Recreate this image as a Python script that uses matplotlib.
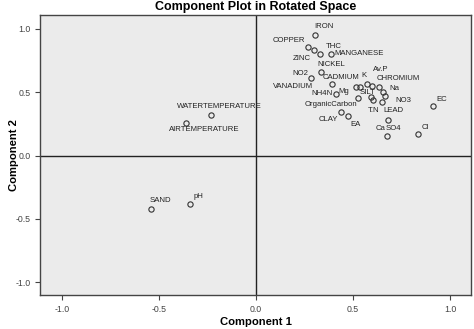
import matplotlib
matplotlib.use('Agg')
import matplotlib.pyplot as plt

names = ['IRON', 'COPPER', 'ZINC', 'THC', 'MANGANESE', 'NICKEL', 'NO2', 'VANADIUM',
         'CADMIUM', 'K', 'Av.P', 'CHROMIUM', 'Na', 'NO3', 'NH4N', 'Mg', 'SILT',
         'OrganicCarbon', 'T.N', 'LEAD', 'Ca', 'SO4', 'EC', 'CLAY', 'EA', 'Cl',
         'WATERTEMPERATURE', 'AIRTEMPERATURE', 'SAND', 'pH']
comp1 = [0.304, 0.266, 0.297, 0.330, 0.387, 0.334, 0.282, 0.392,
         0.515, 0.574, 0.596, 0.636, 0.656, 0.665, 0.412, 0.536, 0.591,
         0.524, 0.605, 0.648, 0.682, 0.674, 0.914, 0.438, 0.473, 0.837,
         -0.232, -0.361, -0.541, -0.342]
comp2 = [0.955, 0.858, 0.831, 0.805, 0.803, 0.661, 0.613, 0.568,
         0.542, 0.568, 0.552, 0.542, 0.500, 0.468, 0.487, 0.542, 0.463,
         0.452, 0.442, 0.421, 0.284, 0.152, 0.395, 0.342, 0.316, 0.171,
         0.318, 0.260, -0.418, -0.384]
ticks = [-1.0, -0.5, 0.0, 0.5, 1.0]

# label placement (pixel offsets from the marker, alignment)
label_pos = [(-1, 8, 'left'), (-2.7, 6.3, 'right'), (-3, -8.3, 'right'), (6, 7.3, 'left'),
             (3, 0, 'left'), (-3.4, 7.3, 'left'), (-2.7, 4.3, 'right'), (-19, -3, 'right'),
             (-33, 9.3, 'left'), (-6.3, 8, 'left'), (1, 16, 'left'), (-2.6, 8, 'left'),
             (5.7, 3.4, 'left'), (10, -4.3, 'left'), (-3, 0, 'right'), (-22, -4.7, 'left'),
             (-10.7, 4, 'left'), (-0.7, -6.3, 'right'), (-5.3, -11, 'left'), (1.3, -8.3, 'left'),
             (-3.3, -9, 'right'), (-1, 7.7, 'left'), (3.4, 6, 'left'), (-3.3, -7.3, 'right'),
             (2.3, -9, 'left'), (3.4, 6, 'left'), (-34.3, 9, 'left'), (-17, -7, 'left'),
             (-1, 8, 'left'), (3.6, 7.4, 'left')]

plt.rcParams['font.family'] = ['Liberation Sans', 'DejaVu Sans']

fig = plt.figure(figsize=(4.74, 3.29), dpi=100)
ax = fig.add_axes([40 / 474, 1 - 295 / 329, 431 / 474, 280 / 329])
ax.set_facecolor('#ebebeb')

ax.axhline(0, color='#222222', lw=1.0, zorder=1)
ax.axvline(0, color='#222222', lw=1.0, zorder=1)

ax.plot(comp1, comp2, 'o', ms=3.8, mfc='none', mec='#333333', mew=0.8, zorder=3)
for n, x, y, (dx, dy, ha) in zip(names, comp1, comp2, label_pos):
    ax.annotate(n, (x, y), xytext=(dx, dy), textcoords='offset pixels',
                ha=ha, va='center', fontsize=5.6, color='#222222', zorder=4)

ax.set_xlim(-1.113, 1.108)
ax.set_ylim(-1.10, 1.11)
ax.set_xticks(ticks)
ax.set_yticks(ticks)
ax.set_xticklabels(['%.1f' % t for t in ticks])
ax.set_yticklabels(['%.1f' % t for t in ticks])
ax.tick_params(labelsize=6.3, colors='#444444', length=3.5, width=0.8, pad=3)
ax.tick_params(axis='x', pad=4)

for s in ax.spines.values():
    s.set_color('#444444')
    s.set_linewidth(1.0)

ax.set_title('Component Plot in Rotated Space', fontsize=9, fontweight='bold', pad=3.5)
ax.set_xlabel('Component 1', fontsize=8.1, fontweight='bold', va='center')
ax.set_ylabel('Component 2', fontsize=8.1, fontweight='bold', va='center')
ax.xaxis.set_label_coords(0.5, -0.096)
ax.yaxis.set_label_coords(-0.061, 0.5)

fig.savefig('out.png', dpi=100)
